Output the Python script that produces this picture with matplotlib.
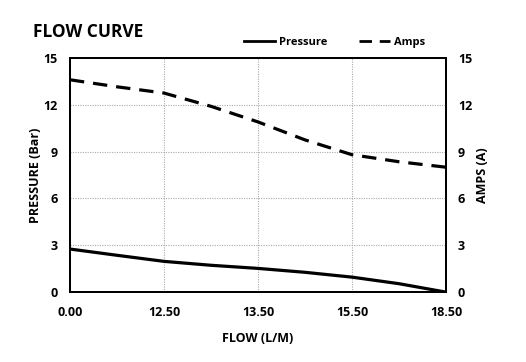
import matplotlib
matplotlib.use("Agg")
import matplotlib.pyplot as plt
from matplotlib.lines import Line2D

plt.rcParams['font.family'] = ['Open Sans', 'DejaVu Sans']

flow_labels = ["0.00", "12.50", "13.50", "15.50", "18.50"]
# positions on the category axis (read at categories and midway between)
pos = [0, 0.5, 1, 1.5, 2, 2.5, 3, 3.5, 4]
pressure = [2.76, 2.36, 1.97, 1.72, 1.52, 1.27, 0.96, 0.54, 0.0]
amps = [13.6, 13.15, 12.75, 11.9, 10.9, 9.75, 8.8, 8.35, 8.0]
yticks = [0, 3, 6, 9, 12, 15]

fig = plt.figure(figsize=(5.26, 3.62), dpi=100)
ax = fig.add_axes([0.133, 0.193, 0.715, 0.647])
ax2 = ax.twinx()

ax.plot(pos, pressure, color="black", lw=2.3, solid_capstyle="butt")
ax2.plot(pos, amps, color="black", lw=2.3, dashes=(4.5, 2.8))

for a in (ax, ax2):
    a.set_ylim(0, 15)
    a.set_yticks(yticks)
    a.set_xlim(0, 4)
    for s in a.spines.values():
        s.set_linewidth(1.4)
        s.set_color("black")
    a.tick_params(length=0, labelsize=9, pad=8)
    for lab in a.get_yticklabels():
        lab.set_fontweight("bold")

ax.set_xticks(range(len(flow_labels)))
ax.set_xticklabels(flow_labels, fontweight="bold", fontsize=9)
ax.tick_params(axis="x", pad=10)
ax.tick_params(axis="y", pad=9)
ax2.tick_params(axis="y", pad=8.5)
ax.grid(True, color="#aaaaaa", linestyle=(0, (1, 1.2)), linewidth=0.8)

ax.set_xlabel("FLOW (L/M)", fontweight="bold", fontsize=9, labelpad=9)
ax.set_ylabel("PRESSURE (Bar)", fontweight="bold", fontsize=9, labelpad=1)
ax2.set_ylabel("AMPS (A)", fontweight="bold", fontsize=9, labelpad=3)

fig.text(0.063, 0.912, "FLOW CURVE", fontweight="bold", fontsize=12.5, va="center")

handles = [Line2D([], [], color="black", lw=2.0),
           Line2D([], [], color="black", lw=2.0, dashes=(4.5, 2.8))]
fig.legend(handles, ["Pressure", "Amps"], loc="center", bbox_to_anchor=(0.636, 0.882),
           ncol=2, frameon=False, prop={"weight": "bold", "size": 8},
           handlelength=2.8, handletextpad=0.3, columnspacing=2.9)

fig.savefig("out.png", dpi=100)
